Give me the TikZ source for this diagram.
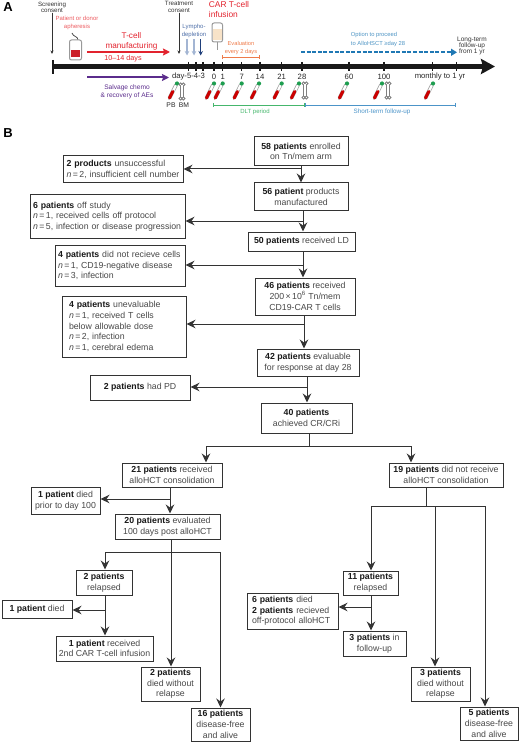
\documentclass[tikz,border=0pt]{standalone}
\usepackage{xcolor}
\usepackage{fontspec}
\setmainfont{Liberation Sans}
\usetikzlibrary{positioning, arrows.meta}
\definecolor{boxgray}{HTML}{333333}
\definecolor{bodygray}{HTML}{484848}
\definecolor{carred}{HTML}{E2232E}
\definecolor{softred}{HTML}{EC5A5F}
\definecolor{salvagepurple}{HTML}{5B2C8C}
\definecolor{lymphoblue}{HTML}{4E6FA8}
\definecolor{paleblue}{HTML}{A3B5D3}
\definecolor{navyblue}{HTML}{1F3F7A}
\definecolor{optionblue}{HTML}{1F78B4}
\definecolor{termblue}{HTML}{4C94C8}
\definecolor{evalorange}{HTML}{EE7B4A}
\definecolor{dltgreen}{HTML}{45B66C}
\definecolor{capgreen}{HTML}{1E9E50}
\definecolor{bagtint}{HTML}{F8E3C8}
\tikzset{
  flowbox/.style={draw=boxgray, line width=1pt, fill=white, inner sep=0pt, align=center,
    text=bodygray, font=\fontsize{8.75}{10.7}\selectfont},
  leftbox/.style={flowbox, align=left},
  flowline/.style={draw=boxgray, line width=1pt},
  flowarrow/.style={flowline, -{Stealth[length=9pt, width=8.5pt, inset=3pt]}},
  panellabel/.style={font=\bfseries\fontsize{13}{13}\selectfont, inner sep=0pt},
  tinylabel/.style={font=\fontsize{6}{8}\selectfont, align=center, inner sep=0pt},
  tightlabel/.style={font=\fontsize{6.2}{6.3}\selectfont, align=center, inner sep=0pt, text=black!80},
  daylabel/.style={font=\fontsize{7.7}{8}\selectfont, inner sep=0pt, text=black!85},
  headlabel/.style={font=\fontsize{8.2}{10}\selectfont, align=center, text=carred, inner sep=0pt},
  consentarrow/.style={draw=black!80, line width=0.6pt, -{Stealth[length=3.5pt, width=3pt]}},
  phasearrow/.style={line width=2pt, -{Stealth[length=7pt, width=7pt, inset=1pt]}},
  spanline/.style={line width=0.7pt, {Bar[width=4pt]}-{Bar[width=4pt]}},
}
\newcommand{\boldp}[1]{\textbf{\textcolor{black!90}{#1}}}
\newcommand{\nn}[1]{\textit{n}\,=\,#1}
\begin{document}
\begin{tikzpicture}[x=1pt, y=-1pt]
  \useasboundingbox (0,0) rectangle (520,743);
  \node[panellabel] (panela) at (8,7) {A};
  \node[panellabel] (panelb) at (8,133) {B};

  % timeline
  \coordinate (tstart) at (53,66.5);
  \coordinate (tend) at (495,66.5);
  \draw[line width=5pt, black!90, -{Stealth[length=14pt, width=15pt, inset=2pt]}] (tstart) -- (tend);
  \draw[line width=1.6pt, black!90] (53,60) -- (53,74);
  \foreach \tx in {188.7,196,203,214,222.7,241.7,260,281.7,302,349,384,432.7,456.7}
    \draw[line width=1.2pt, black!90] (\tx,62) -- (\tx,71);

  \node[daylabel] (daylab) at (188.5,77) {day-5-4-3};
  \foreach \tx/\tl in {214/0,222.7/1,241.7/7,260/14,281.7/21,302/28,349/60,384/100}
    \node[daylabel] (d\tl) at (\tx,77) {\tl};
  \node[daylabel] (dmonth) at (440,77) {monthly to 1 yr};
  \node[daylabel, font=\fontsize{6.8}{8}\selectfont] (lblpb) at (171,105) {PB};
  \node[daylabel, font=\fontsize{6.8}{8}\selectfont] (lblbm) at (184,105) {BM};

  % top of the timeline
  \node[tightlabel] (screen) at (52,7) {Screening\\consent};
  \coordinate (screenend) at (52,54);
  \draw[consentarrow] (screen) -- (screenend);
  \node[tightlabel] (treat) at (179,7) {Treatment\\consent};
  \coordinate (treatend) at (179,54);
  \draw[consentarrow] (treat) -- (treatend);
  \node[tinylabel, text=softred] (aph) at (77,23) {Patient or donor\\apheresis};
  \node[headlabel] (tcell) at (131.5,41) {T-cell\\manufacturing};
  \node[headlabel, font=\fontsize{7.2}{8}\selectfont] (tdays) at (123,59) {10--14 days};
  \coordinate (mstart) at (87,52); \coordinate (mend) at (170,52);
  \draw[phasearrow, carred] (mstart) -- (mend);
  \coordinate (sstart) at (87,77.5); \coordinate (send) at (169,77.5);
  \draw[phasearrow, salvagepurple] (sstart) -- (send);
  \node[tinylabel, text=salvagepurple, font=\fontsize{6.6}{8.4}\selectfont] (salv) at (127,91.5) {Salvage chemo\\\& recovery of AEs};
  \node[headlabel, align=left, font=\fontsize{8.4}{10}\selectfont] (carinf) at (229,10) {CAR T-cell\\infusion};
  \node[tinylabel, text=lymphoblue] (lympho) at (194,31) {Lympho-\\depletion};
  \foreach \tx/\tc in {187/paleblue,194/paleblue,200.7/navyblue}
    \draw[line width=1.1pt, \tc, -{Stealth[length=4.5pt, width=4.5pt]}] (\tx,39) -- (\tx,55.5);
  \node[tinylabel, text=evalorange, font=\fontsize{5.7}{8}\selectfont] (evalu) at (241,48.5) {Evaluation\\every 2 days};
  \draw[spanline, evalorange] (222,57.5) -- (260,57.5);
  \node[tinylabel, text=optionblue!80!white, align=left, font=\fontsize{5.8}{9}\selectfont] (opt) at (378,39.5) {Option to proceed\\to AlloHSCT ≥day 28};
  \draw[line width=1.8pt, optionblue, dash pattern=on 4pt off 1.6pt, -{Stealth[length=6pt, width=7pt, inset=0pt]}] (301,52.3) -- (457,52.3);
  \node[tightlabel, font=\fontsize{6.5}{6.4}\selectfont] (longt) at (472,46) {Long-term\\follow-up\\from 1 yr};

  % blood bag
  \draw[line width=0.8pt, black!70] (78,40) .. controls (78,36) and (73,37) .. (72,33);
  \draw[line width=1pt, gray!80, fill=white, rounded corners=2pt] (69.5,40) rectangle (81.5,60);
  \fill[carred!90!black] (71,50) rectangle (80,57.5);
  % infusion bag
  \draw[line width=0.8pt, gray!80] (217,42) -- (217,50);
  \draw[line width=1pt, gray!80, fill=white, rounded corners=2pt] (212,23) rectangle (222.5,42);
  \fill[bagtint] (213,29) rectangle (221.5,40);

  % sample tubes
  \foreach \tx in {177,214,222.7,241.7,259,281.7,299,347,382,433} {
    \draw[line width=3.6pt, gray!75, line cap=round] (\tx-1,85) -- (\tx-7.5,98);
    \draw[line width=2.2pt, white] (\tx-1,85) -- (\tx-4.2,91.5);
    \draw[line width=3pt, red!80!black, line cap=round] (\tx-4.2,91.5) -- (\tx-7.5,98);
    \fill[capgreen] (\tx,83.5) circle (2.1pt);
  }
  % bone marrow samples
  \foreach \tx/\ty in {182/83,305/82,388/82} {
    \draw[line width=3.6pt, gray] (\tx,\ty+2) -- (\tx,\ty+15);
    \draw[line width=2pt, white] (\tx,\ty+2) -- (\tx,\ty+15);
    \foreach \ex in {-1.4,1.4} {
      \draw[line width=0.8pt, gray, fill=white] (\tx+\ex,\ty+1.5) circle (1.6pt);
      \draw[line width=0.8pt, gray, fill=white] (\tx+\ex,\ty+15.5) circle (1.6pt);
    }
    \draw[line width=2pt, white] (\tx,\ty+2.5) -- (\tx,\ty+14.5);
  }

  % follow-up periods
  \draw[spanline, dltgreen] (213,105) -- (305,105);
  \draw[spanline, termblue] (305,105) -- (456,105);
  \node[tinylabel, text=dltgreen] (dlt) at (255,112) {DLT period};
  \node[tinylabel, text=termblue, font=\fontsize{6.3}{8}\selectfont] (shortt) at (382,111.5) {Short-term follow-up};

  % main column
  \node[flowbox, minimum width=94pt, minimum height=29pt] (n58) at (301,151.5) {\boldp{58 patients} enrolled\\on Tn/mem arm};
  \node[flowbox, minimum width=94pt, minimum height=28pt] (n56) at (301,197) {\boldp{56 patient} products\\manufactured};
  \node[flowbox, minimum width=107pt, minimum height=19pt] (n50) at (301.5,241.5) {\boldp{50 patients} received LD};
  \node[flowbox, minimum width=100pt, minimum height=37pt] (n46) at (305,296.5) {\boldp{46 patients} received\\200\,×\,10\textsuperscript{6} Tn/mem\\CD19-CAR T cells};
  \node[flowbox, minimum width=102pt, minimum height=27pt] (n42) at (308,362.5) {\boldp{42 patients} evaluable\\for response at day 28};
  \node[flowbox, minimum width=91pt, minimum height=30pt] (n40) at (306.5,418) {\boldp{40 patients}\\achieved CR/CRi};

  % exclusions
  \node[leftbox, text width=113pt, minimum height=27pt, inner xsep=3.5pt] (n2p) at (123,169.5) {\boldp{2 products} unsuccessful\\\nn{2}, insufficient cell number};
  \node[leftbox, text width=149pt, minimum height=43pt, inner xsep=3pt] (n6off) at (107.5,216.5) {\boldp{6 patients} off study\\\nn{1}, received cells off protocol\\\nn{5}, infection or disease progression};
  \node[leftbox, text width=124pt, minimum height=41pt, inner xsep=3pt] (n4not) at (120,265.5) {\boldp{4 patients} did not recieve cells\\\nn{1}, CD19-negative disease\\\nn{3}, infection};
  \node[leftbox, text width=110pt, minimum height=61pt, inner xsep=7pt] (n4un) at (124,326.5) {\boldp{4 patients} unevaluable\\\nn{1}, received T cells\\below allowable dose\\\nn{2}, infection\\\nn{1}, cerebral edema};
  \node[flowbox, minimum width=100pt, minimum height=25pt] (n2pd) at (140,387.5) {\boldp{2 patients} had PD};

  % left branch
  \node[flowbox, minimum width=100pt, minimum height=24pt] (n21) at (172,475) {\boldp{21 patients} received\\alloHCT consolidation};
  \node[flowbox, minimum width=69pt, minimum height=27pt] (n1d100) at (65.5,500.5) {\boldp{1 patient} died\\prior to day 100};
  \node[flowbox, minimum width=105pt, minimum height=25pt] (n20) at (167.5,526.5) {\boldp{20 patients} evaluated\\100 days post alloHCT};
  \node[flowbox, minimum width=56pt, minimum height=25pt] (n2rel) at (104,582.5) {\boldp{2 patients}\\relapsed};
  \node[flowbox, minimum width=70pt, minimum height=18pt] (n1died) at (37,609) {\boldp{1 patient} died};
  \node[flowbox, minimum width=97pt, minimum height=25pt] (n1car) at (104.5,648.5) {\boldp{1 patient} received\\2nd CAR T-cell infusion};
  \node[flowbox, minimum width=59pt, minimum height=34pt] (n2wo) at (170.5,684) {\boldp{2 patients}\\died without\\relapse};
  \node[flowbox, minimum width=59pt, minimum height=33pt] (n16) at (220.5,724.5) {\boldp{16 patients}\\disease-free\\and alive};

  % right branch
  \node[flowbox, minimum width=114pt, minimum height=24pt] (n19) at (446,475) {\boldp{19 patients} did not receive\\alloHCT consolidation};
  \node[flowbox, minimum width=55pt, minimum height=24pt] (n11) at (370.5,583) {\boldp{11 patients}\\relapsed};
  \node[leftbox, text width=81pt, minimum height=36pt, inner xsep=5pt] (n6d) at (292.5,611) {\boldp{6 patients} died\\\boldp{2 patients} recieved\\off-protocol alloHCT};
  \node[flowbox, minimum width=63pt, minimum height=25pt] (n3fu) at (374.5,643.5) {\boldp{3 patients} in\\follow-up};
  \node[flowbox, minimum width=59pt, minimum height=34pt] (n3wo) at (440.5,684) {\boldp{3 patients}\\died without\\relapse};
  \node[flowbox, minimum width=58pt, minimum height=33pt] (n5) at (489,723.5) {\boldp{5 patients}\\disease-free\\and alive};

  % junctions
  \coordinate (j58) at (301,169);
  \coordinate (j56) at (303,221);
  \coordinate (j50) at (303,265);
  \coordinate (j46) at (304,324);
  \coordinate (j42) at (307,387);
  \coordinate (j40) at (309,446);
  \coordinate (j21) at (170,499);
  \coordinate (j20) at (171,552);
  \coordinate (j2rel) at (105,610);
  \coordinate (j19) at (426,506);
  \coordinate (j11) at (371,607);

  % connectors
  \draw[flowarrow] (n58.south -| j58) -- (n56.north -| j58);
  \draw[flowarrow] (j58) -- (j58 -| n2p.east);
  \draw[flowarrow] (n56.south -| j56) -- (n50.north -| j56);
  \draw[flowarrow] (j56) -- (j56 -| n6off.east);
  \draw[flowarrow] (n50.south -| j50) -- (n46.north -| j50);
  \draw[flowarrow] (j50) -- (j50 -| n4not.east);
  \draw[flowarrow] (n46.south -| j46) -- (n42.north -| j46);
  \draw[flowarrow] (j46) -- (j46 -| n4un.east);
  \draw[flowarrow] (n42.south -| j42) -- (n40.north -| j42);
  \draw[flowarrow] (j42) -- (j42 -| n2pd.east);
  \draw[flowline] (n40.south -| j40) -- (j40);
  \draw[flowarrow] (j40) -| ([xshift=34pt]n21.north);
  \draw[flowarrow] (j40) -| ([xshift=-35pt]n19.north);
  \draw[flowarrow] (n21.south -| j21) -- (n20.north -| j21);
  \draw[flowarrow] (j21) -- (j21 -| n1d100.east);
  \draw[flowarrow] (n20.south -| j20) -- (n2wo.north -| j20);
  \draw[flowarrow] (j20) -| (n2rel.north -| j2rel);
  \draw[flowarrow] (j20) -| (n16.north);
  \draw[flowarrow] (n2rel.south -| j2rel) -- (n1car.north -| j2rel);
  \draw[flowarrow] (j2rel) -- (j2rel -| n1died.east);
  \draw[flowline] (n19.south -| j19) -- (j19);
  \draw[flowarrow] (j19) -| (n11.north -| j11);
  \draw[flowarrow] (j19) -| ([xshift=-5.5pt]n3wo.north);
  \draw[flowarrow] (j19) -| (n5.north -| 485,0);
  \draw[flowarrow] (n11.south -| j11) -- (n3fu.north -| j11);
  \draw[flowarrow] (j11) -- (j11 -| n6d.east);
\end{tikzpicture}
\end{document}
